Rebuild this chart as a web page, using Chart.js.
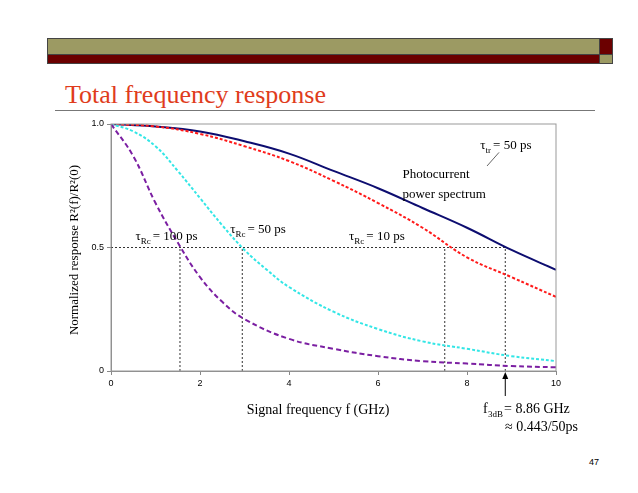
<!DOCTYPE html>
<html><head><meta charset="utf-8">
<script src="https://cdn.jsdelivr.net/npm/chart.js"></script>
<style>
body{margin:0;width:638px;height:493px;background:#fff;position:relative;overflow:hidden;font-family:'Liberation Serif',serif}
.b{position:absolute}
#c{position:absolute;left:0;top:0}
</style></head><body>
<div class="b" style="left:47px;top:38px;width:551px;height:15px;background:#9c9a63;border:1px solid #444"></div>
<div class="b" style="left:47px;top:54px;width:551px;height:8px;background:#6b0000;border:1px solid #444"></div>
<div class="b" style="left:599px;top:38px;width:12px;height:15px;background:#6b0000;border:1px solid #444"></div>
<div class="b" style="left:599px;top:54px;width:12px;height:8px;background:#9c9a63;border:1px solid #444"></div>
<div class="b" style="left:65px;top:80px;font-size:26px;color:#e03c1c">Total frequency response</div>
<div class="b" style="left:55px;top:110px;width:540px;height:1px;background:#777"></div>
<div class="b" style="left:589px;top:457px;font-family:'Liberation Sans';font-size:9px">47</div>
<canvas id="c" width="638" height="493"></canvas>
<script>
const xTr=[0,1,2,3,4,5,6,7,8,9,10];
const yTr=[1,0.99,0.97,0.93,0.88,0.81,0.74,0.66,0.58,0.49,0.41];
const xRc10=[0,1,2,3,4,5,6,7,8,9,10];
const yRc10=[1,0.99,0.96,0.91,0.85,0.77,0.68,0.58,0.46,0.38,0.30];
const xRc50=[0,0.5,1,1.5,2,2.5,3,3.5,4,5,6,7,8,9,10];
const yRc50=[1,0.97,0.91,0.81,0.70,0.59,0.49,0.41,0.34,0.24,0.17,0.12,0.09,0.06,0.04];
const xRc100=[0,0.5,1,1.5,2,2.5,3,4,5,6,7,8,9,10];
const yRc100=[1,0.87,0.68,0.52,0.38,0.28,0.21,0.13,0.09,0.06,0.04,0.03,0.02,0.015];
const halfX=[1.55,2.95,7.5,8.86];
const xTicks=[0,2,4,6,8,10];
const yTicks=[0,0.5,1];
const pts=(xs,ys)=>xs.map((x,i)=>({x,y:ys[i]}));
const ds=(xs,ys,c,dash)=>({data:pts(xs,ys),borderColor:c,borderWidth:2,borderDash:dash,pointRadius:0,tension:0.4,fill:false});
const refs=[{data:[{x:0,y:0.5},{x:8.86,y:0.5}]}].concat(halfX.map(h=>({data:[{x:h,y:0},{x:h,y:0.5}]}))).map(d=>Object.assign(d,{borderColor:'#333',borderWidth:1,borderDash:[2,2],pointRadius:0,tension:0}));
const ann={id:'ann',afterDraw(ch){
 const c=ch.ctx,xs=ch.scales.x,ys=ch.scales.y,a=ch.chartArea;
 c.save();c.strokeStyle='#999';c.lineWidth=1;c.strokeRect(a.left,a.top,a.right-a.left,a.bottom-a.top);
 c.fillStyle='#000';c.textBaseline='alphabetic';
 const tau=(x,y,sub,rest)=>{c.font='13px "Liberation Serif"';c.fillText('τ',x,y);let w=c.measureText('τ').width;c.font='9px "Liberation Serif"';c.fillText(sub,x+w,y+4);w+=c.measureText(sub).width+2;c.font='13px "Liberation Serif"';c.fillText(rest,x+w,y);};
 tau(xs.getPixelForValue(0.55),ys.getPixelForValue(0.53),'Rc','= 100 ps');
 tau(xs.getPixelForValue(2.68),ys.getPixelForValue(0.56),'Rc','= 50 ps');
 tau(xs.getPixelForValue(5.35),ys.getPixelForValue(0.53),'Rc','= 10 ps');
 tau(xs.getPixelForValue(8.3),ys.getPixelForValue(0.9),'tr','= 50 ps');
 c.strokeStyle='#666';c.beginPath();c.moveTo(xs.getPixelForValue(8.45),ys.getPixelForValue(0.83));c.lineTo(xs.getPixelForValue(8.72),ys.getPixelForValue(0.885));c.stroke();
 c.font='13px "Liberation Serif"';
 c.fillText('Photocurrent',xs.getPixelForValue(6.55),ys.getPixelForValue(0.78));
 c.fillText('power spectrum',xs.getPixelForValue(6.55),ys.getPixelForValue(0.70));
 c.font='14px "Liberation Serif"';c.textAlign='center';
 c.fillText('Signal frequency f (GHz)',318,414);
 c.textAlign='left';
 c.fillText('f',483,413);c.font='9px "Liberation Serif"';c.fillText('3dB',488,417);c.font='14px "Liberation Serif"';c.fillText('= 8.86 GHz',504,413);
 c.fillText('≈ 0.443/50ps',505,431);
 const ax=xs.getPixelForValue(8.86);c.strokeStyle='#000';c.beginPath();c.moveTo(ax,396);c.lineTo(ax,375);c.stroke();
 c.beginPath();c.moveTo(ax,372);c.lineTo(ax-3,379);c.lineTo(ax+3,379);c.closePath();c.fill();
 c.translate(78,250);c.rotate(-Math.PI/2);c.textAlign='center';c.font='13px "Liberation Serif"';
 c.fillText('Normalized response R²(f)/R²(0)',0,0);
 c.restore();}};
new Chart(document.getElementById('c'),{type:'line',
 data:{datasets:[ds(xRc100,yRc100,'#7b1fa2',[5,3]),ds(xRc50,yRc50,'#33e6e6',[3,2]),ds(xRc10,yRc10,'#ff1a1a',[3,2]),ds(xTr,yTr,'#0d0d70',[])].concat(refs)},
 options:{responsive:false,animation:false,layout:{padding:{left:71,top:124,right:82,bottom:102}},
  plugins:{legend:{display:false},tooltip:{enabled:false}},
  scales:{
   x:{type:'linear',min:0,max:10,afterFit:s=>{s.height=20},afterBuildTicks:s=>{s.ticks=xTicks.map(v=>({value:v}))},
      grid:{display:true,drawOnChartArea:false,tickLength:4,color:'#888'},border:{color:'#888'},
      ticks:{font:{family:'Liberation Sans',size:9},color:'#000'}},
   y:{type:'linear',min:0,max:1,afterFit:s=>{s.width=40},afterBuildTicks:s=>{s.ticks=yTicks.map(v=>({value:v}))},
      grid:{display:true,drawOnChartArea:false,tickLength:4,color:'#888'},border:{color:'#888'},
      ticks:{font:{family:'Liberation Sans',size:9},color:'#000'}}}},
 plugins:[ann]});
</script></body></html>
